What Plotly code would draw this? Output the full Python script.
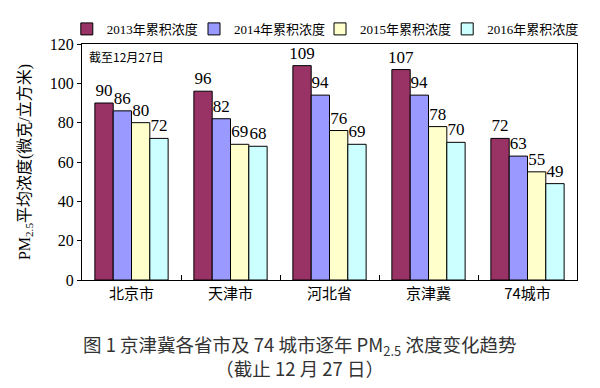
import plotly.graph_objects as go

categories = ["北京市", "天津市", "河北省", "京津冀", "74城市"]
series_names = ["2013年累积浓度", "2014年累积浓度", "2015年累积浓度", "2016年累积浓度"]
v2013 = [90, 96, 109, 107, 72]
v2014 = [86, 82, 94, 94, 63]
v2015 = [80, 69, 76, 78, 55]
v2016 = [72, 68, 69, 70, 49]
y_ticks = [0, 20, 40, 60, 80, 100, 120]

colors = ["#993366", "#9999FF", "#FFFFCC", "#CCFFFF"]
legend_ids = ["legend", "legend2", "legend3", "legend4"]
legend_x = [0.098, 0.31, 0.52, 0.732]
serif = "Liberation Serif, Times New Roman, Noto Sans CJK SC"
cjk = "Noto Sans CJK SC, sans-serif"

fig = go.Figure()
for name, vals, c, lg in zip(series_names, [v2013, v2014, v2015, v2016], colors, legend_ids):
    fig.add_trace(go.Bar(
        x=categories, y=vals, name=name, legend=lg,
        marker=dict(color=c, line=dict(color="#000000", width=1)),
        text=[str(v) for v in vals], textposition="outside",
        constraintext="none",
        textfont=dict(family=serif, size=17, color="#000000"),
        cliponaxis=False,
    ))

legend_style = dict(orientation="h", xref="container", yref="container",
                    xanchor="left", y=0.946, yanchor="middle",
                    font=dict(family=serif, size=13, color="#000000"),
                    itemwidth=30, bgcolor="rgba(0,0,0,0)")

fig.update_layout(
    width=600, height=388,
    paper_bgcolor="white", plot_bgcolor="white",
    margin=dict(l=74, r=31, t=36, b=116, autoexpand=False),
    barmode="group", bargap=0.26, bargroupgap=0,
    showlegend=True,
    xaxis=dict(showline=True, linecolor="#000000", linewidth=1, mirror=True,
               ticks="inside", tickson="boundaries", ticklen=5, tickcolor="#000000",
               tickfont=dict(family=cjk, size=15, color="#000000")),
    yaxis=dict(range=[0, 120], tickvals=y_ticks, showline=True, linecolor="#000000",
               linewidth=1, mirror=True, ticks="outside", ticklen=4, tickcolor="#000000",
               showgrid=False, zeroline=False,
               tickfont=dict(family=serif, size=16, color="#000000"),
               title=dict(text="PM<sub>2.5</sub>平均浓度(微克/立方米)",
                          font=dict(family=serif, size=16, color="#000000"), standoff=15)),
    font=dict(family=serif, color="#000000"),
)
for lg, lx in zip(legend_ids, legend_x):
    fig.update_layout({lg: dict(legend_style, x=lx)})

fig.add_annotation(text="截至12月27日", xref="paper", yref="paper", x=0.01, y=0.99,
                   xanchor="left", yanchor="top", showarrow=False,
                   font=dict(family=cjk, size=12, color="#000000"))
fig.add_annotation(text="图 1 京津冀各省市及 74 城市逐年 PM<sub>2.5</sub> 浓度变化趋势<br>（截止 12 月 27 日）",
                   xref="paper", yref="paper", x=0.44, y=-0.322, xanchor="center", yanchor="middle",
                   align="center", showarrow=False,
                   font=dict(family=cjk, size=18.5, color="#333333"))

fig.write_html("out.html")
